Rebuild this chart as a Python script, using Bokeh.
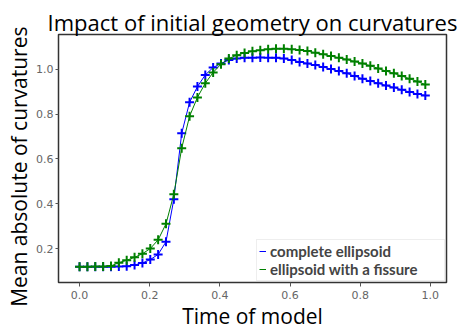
from bokeh.plotting import figure
from bokeh.models import Range1d, FixedTicker, PrintfTickFormatter, Legend, LegendItem
from bokeh.embed import file_html
from bokeh.resources import INLINE

time = [round(i * 0.0224, 4) for i in range(45)]

complete_ellipsoid = [
    0.120, 0.120, 0.120, 0.120, 0.120, 0.121, 0.122, 0.128, 0.137, 0.152,
    0.175, 0.231, 0.421, 0.714, 0.852, 0.922, 0.974, 1.007, 1.025, 1.040,
    1.047, 1.050, 1.051, 1.052, 1.051, 1.050, 1.047, 1.041, 1.032, 1.025,
    1.018, 1.009, 1.000, 0.991, 0.981, 0.969, 0.957, 0.947, 0.937, 0.927,
    0.918, 0.908, 0.898, 0.889, 0.883,
]
ellipsoid_fissure = [
    0.120, 0.120, 0.121, 0.121, 0.124, 0.138, 0.149, 0.162, 0.178, 0.201,
    0.240, 0.311, 0.443, 0.648, 0.790, 0.874, 0.937, 0.985, 1.022, 1.047,
    1.062, 1.072, 1.079, 1.084, 1.088, 1.091, 1.091, 1.088, 1.085, 1.080,
    1.073, 1.066, 1.058, 1.050, 1.043, 1.034, 1.025, 1.015, 1.003, 0.991,
    0.981, 0.969, 0.957, 0.945, 0.931,
]
x_ticks = [0.0, 0.2, 0.4, 0.6, 0.8, 1.0]
y_ticks = [0.2, 0.4, 0.6, 0.8, 1.0]
labels = ["complete ellipsoid", "ellipsoid with a fissure"]

p = figure(width=474, height=332, output_backend="svg", toolbar_location=None,
           x_range=Range1d(-0.06, 1.046), y_range=Range1d(0.05, 1.154),
           min_border_left=58, min_border_right=28, min_border_top=34, min_border_bottom=47)

p.title.text = "Impact of initial geometry on curvatures"
p.title.text_font = "Open Sans"
p.title.text_font_size = "22px"
p.title.text_font_style = "normal"
p.title.text_color = "black"
p.title.align = "center"
p.title.offset = -22
p.title.standoff = -4

p.xgrid.visible = False
p.ygrid.visible = False
p.outline_line_color = "#333333"
p.outline_line_width = 1.5

for ax in (p.xaxis, p.yaxis):
    ax.axis_line_color = None
    ax.major_tick_line_color = "#555555"
    ax.major_tick_in = 0
    ax.major_tick_out = 4
    ax.minor_tick_line_color = None
    ax.major_label_text_color = "#666666"
    ax.major_label_text_font = "DejaVu Sans"
    ax.major_label_text_font_size = "11px"
    ax.major_label_standoff = 4
    ax.axis_label_text_font = "Open Sans"
    ax.axis_label_text_font_size = "21px"
    ax.axis_label_text_font_style = "normal"
    ax.axis_label_text_color = "black"
    ax.formatter = PrintfTickFormatter(format="%.1f")

p.xaxis.ticker = FixedTicker(ticks=x_ticks)
p.yaxis.ticker = FixedTicker(ticks=y_ticks)
p.xaxis.axis_label = "Time of model"
p.xaxis.axis_label_standoff = 0
# trailing no-break spaces shift the rotated label slightly downward, as in the original
p.yaxis.axis_label = "Mean absolute of curvatures" + "\u00a0\u00a0\u00a0"
p.yaxis.axis_label_standoff = 0
p.yaxis.major_label_standoff = 2
p.yaxis.major_tick_out = 3
p.yaxis.axis_label_text_line_height = 1.0

l1 = p.line(time, complete_ellipsoid, line_color="blue", line_width=1)
p.scatter(time, complete_ellipsoid, marker="cross", size=9, line_color="blue", line_width=2)
l2 = p.line(time, ellipsoid_fissure, line_color="green", line_width=1)
p.scatter(time, ellipsoid_fissure, marker="cross", size=9, line_color="green", line_width=2)

legend = Legend(items=[LegendItem(label=labels[0], renderers=[l1]),
                       LegendItem(label=labels[1], renderers=[l2])],
                location="bottom_right")
legend.label_text_font = "Lato"
legend.label_text_font_style = "bold"
legend.label_text_font_size = "15px"
legend.label_text_baseline = "middle"
legend.label_text_line_height = 0.9
legend.glyph_width = 7
legend.glyph_height = 14
legend.label_standoff = 4
legend.label_width = 172
legend.spacing = 0
legend.padding = 2
legend.margin = 1
legend.label_height = 14
legend.border_line_color = "#dddddd"
legend.background_fill_alpha = 0.8
p.add_layout(legend)

open("out.html", "w").write(file_html(p, INLINE))
